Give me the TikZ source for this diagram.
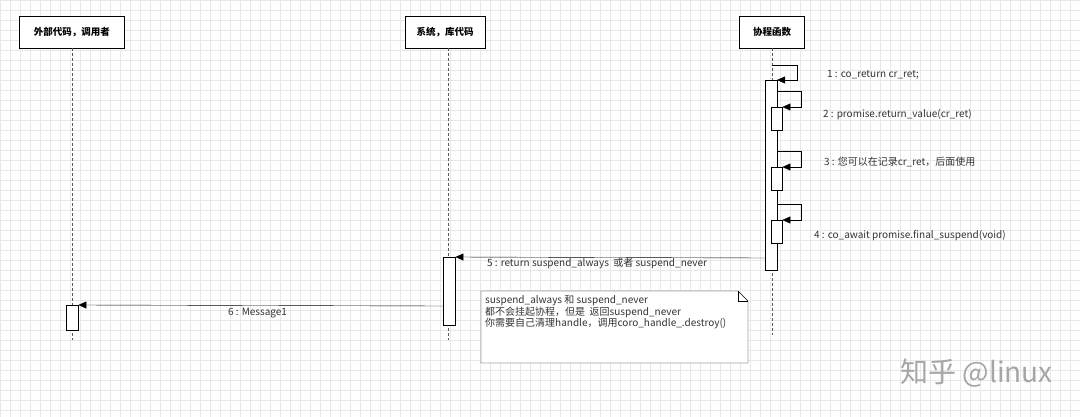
\documentclass[tikz,border=0pt]{standalone}
\usepackage{fontspec}
\setmainfont{Noto Sans CJK SC}
\usetikzlibrary{arrows.meta}
\begin{document}
\begin{tikzpicture}[x=1pt,y=-1pt,
  hdr/.style={draw,fill=white,minimum height=32pt,font=\fontsize{9.5}{11}\selectfont\bfseries},
  act/.style={draw,fill=white},
  life/.style={densely dashed,gray!70!black},
  msg/.style={-{Triangle[length=8pt,width=7pt]}},
  lbl/.style={font=\fontsize{10}{12}\selectfont,text=black!80,anchor=west,inner sep=0}]
\useasboundingbox (0,0) rectangle (1080,417);
\fill[white] (0,0) rectangle (1080,417);
\draw[black!9,step=10pt] (0,0) grid (1080,417);
\node[hdr,minimum width=105pt] (h1) at (72,32) {外部代码，调用者};
\node[hdr,minimum width=80pt] (h2) at (445,32) {系统，库代码};
\node[hdr,minimum width=65pt] (h3) at (772,32) {协程函数};
\coordinate (e1) at (72,340); \coordinate (e2) at (448,340); \coordinate (e3) at (772,335);
\draw[life] (h1.south -| e1) -- (e1);
\draw[life] (h2.south -| e2) -- (e2);
\draw[life] (h3.south) -- (e3);
\draw[act] (765,80) rectangle (777,270);
\node[act,inner sep=0,minimum width=11pt,minimum height=23pt,anchor=north west] (s2) at (771,107) {};
\node[act,inner sep=0,minimum width=11pt,minimum height=23pt,anchor=north west] (s3) at (771,167) {};
\node[act,inner sep=0,minimum width=11pt,minimum height=23pt,anchor=north west] (s4) at (771,220) {};
\draw[msg] (772,65) -- (797,65) -- (797,80) -- (777,80);
\draw[msg] (777,91) -- (801,91) -- (801,107) -- (s2.north east);
\draw[msg] (777,151) -- (801,151) -- (801,167) -- (s3.north east);
\draw[msg] (777,204) -- (801,204) -- (801,220) -- (s4.north east);
\node[lbl] (l1) at (827,75) {1 : co\_return cr\_ret;};
\node[lbl] (l2) at (823,115) {2 : promise.return\_value(cr\_ret)};
\node[lbl] (l3) at (824,162) {3 : 您可以在记录cr\_ret，后面使用};
\node[lbl] (l4) at (814,236) {4 : co\_await promise.final\_suspend(void)};
\node[act,inner sep=0,minimum width=12pt,minimum height=68pt,anchor=north west] (a2) at (443,257) {};
\node[act,inner sep=0,minimum width=12pt,minimum height=25pt,anchor=north west] (a1) at (66,305) {};
\draw[msg] (765,258) -- (a2.north east);
\node[lbl] (l5) at (487,263) {5 : return suspend\_always \ 或者 suspend\_never};
\draw[msg] (443,306) -- (a1.north east);
\node[lbl] (l6) at (228,313) {6 : Message1};
\draw[fill=white] (481,291) -- (738,291) -- (748,301) -- (748,363) -- (481,363) -- cycle;
\draw (738,291) -- (738,301) -- (748,301);
\node[lbl,anchor=north west,align=left,font=\fontsize{10}{10}\selectfont] (note) at (485,295) {suspend\_always 和 suspend\_never\\都不会挂起协程，但是 \ 返回suspend\_never\\你需要自己清理handle，调用coro\_handle\_.destroy()};
\node[text=black!35,font=\fontsize{28}{30}\selectfont,anchor=east,inner sep=0] (wm) at (1053,373) {知乎 @linux};
\end{tikzpicture}
\end{document}
